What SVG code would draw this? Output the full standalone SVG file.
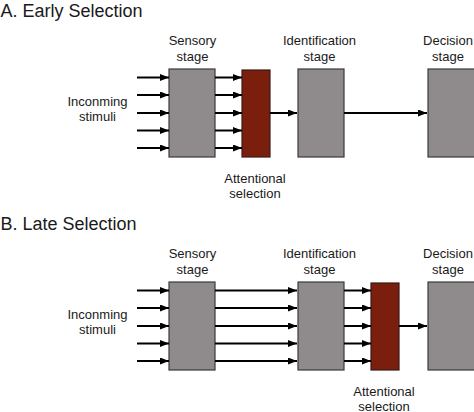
<svg xmlns="http://www.w3.org/2000/svg" width="474" height="412" viewBox="0 0 474 412">
<style>
.t{font-family:"Liberation Sans",Arial,sans-serif;font-size:13px;fill:#1a1a1a;text-anchor:middle}
.h{font-family:"Liberation Sans",Arial,sans-serif;font-size:18px;fill:#1a1a1a}
.g{fill:#8f8a8b;stroke:#3a3a3a;stroke-width:1.2}
.r{fill:#7a1f0e;stroke:#3a1a14;stroke-width:1.2}
.c line{stroke:#000;stroke-width:2;marker-end:url(#ah)}
</style>
<defs>
<marker id="ah" markerUnits="userSpaceOnUse" markerWidth="10" markerHeight="8" refX="9" refY="3.5" orient="auto">
<path d="M0,0 L9,3.5 L0,7 z" fill="#000"/>
</marker>
</defs>
<rect width="474" height="412" fill="#fff"/>
<text class="h" x="0.5" y="16.5">A. Early Selection</text>
<text class="h" x="0.5" y="230">B. Late Selection</text>

<g id="a-input"><text class="t" x="97.5" y="106">Inconming</text><text class="t" x="97.5" y="121">stimuli</text></g>
<g id="a-sensory"><rect class="g" x="169" y="69" width="46" height="88"/><text class="t" x="192.5" y="45">Sensory</text><text class="t" x="192.5" y="60.5">stage</text></g>
<g id="a-attn"><rect class="r" x="242" y="70" width="28" height="87"/><text class="t" x="255" y="182.5">Attentional</text><text class="t" x="255" y="197.5">selection</text></g>
<g id="a-ident"><rect class="g" x="298" y="69" width="46" height="88"/><text class="t" x="319.5" y="45">Identification</text><text class="t" x="319.5" y="60.5">stage</text></g>
<g id="a-decision"><rect class="g" x="428" y="69" width="50" height="88"/><text class="t" x="448" y="45">Decision</text><text class="t" x="448" y="60.5">stage</text></g>

<g id="b-input"><text class="t" x="97.5" y="319">Inconming</text><text class="t" x="97.5" y="334">stimuli</text></g>
<g id="b-sensory"><rect class="g" x="169" y="282" width="46" height="88"/><text class="t" x="192.5" y="258">Sensory</text><text class="t" x="192.5" y="273.5">stage</text></g>
<g id="b-ident"><rect class="g" x="298" y="282" width="46" height="88"/><text class="t" x="319.5" y="258">Identification</text><text class="t" x="319.5" y="273.5">stage</text></g>
<g id="b-attn"><rect class="r" x="371" y="283" width="28" height="87"/><text class="t" x="384" y="395.5">Attentional</text><text class="t" x="384" y="410.5">selection</text></g>
<g id="b-decision"><rect class="g" x="428" y="282" width="50" height="88"/><text class="t" x="448" y="258">Decision</text><text class="t" x="448" y="273.5">stage</text></g>

<g id="connectors" class="c">
<line x1="137" y1="77.5" x2="169" y2="77.5"/>
<line x1="137" y1="95" x2="169" y2="95"/>
<line x1="137" y1="113" x2="169" y2="113"/>
<line x1="137" y1="130.5" x2="169" y2="130.5"/>
<line x1="137" y1="148" x2="169" y2="148"/>
<line x1="215" y1="77.5" x2="242" y2="77.5"/>
<line x1="215" y1="95" x2="242" y2="95"/>
<line x1="215" y1="113" x2="242" y2="113"/>
<line x1="215" y1="130.5" x2="242" y2="130.5"/>
<line x1="215" y1="148" x2="242" y2="148"/>
<line x1="270" y1="113" x2="297" y2="113"/>
<line x1="344" y1="113" x2="427" y2="113"/>

<line x1="137" y1="290.5" x2="169" y2="290.5"/>
<line x1="137" y1="308" x2="169" y2="308"/>
<line x1="137" y1="326" x2="169" y2="326"/>
<line x1="137" y1="343.5" x2="169" y2="343.5"/>
<line x1="137" y1="361" x2="169" y2="361"/>
<line x1="215" y1="290.5" x2="297" y2="290.5"/>
<line x1="215" y1="308" x2="297" y2="308"/>
<line x1="215" y1="326" x2="297" y2="326"/>
<line x1="215" y1="343.5" x2="297" y2="343.5"/>
<line x1="215" y1="361" x2="297" y2="361"/>
<line x1="344" y1="290.5" x2="371" y2="290.5"/>
<line x1="344" y1="308" x2="371" y2="308"/>
<line x1="344" y1="326" x2="371" y2="326"/>
<line x1="344" y1="343.5" x2="371" y2="343.5"/>
<line x1="344" y1="361" x2="371" y2="361"/>
<line x1="399" y1="326" x2="427" y2="326"/>
</g>
</svg>
